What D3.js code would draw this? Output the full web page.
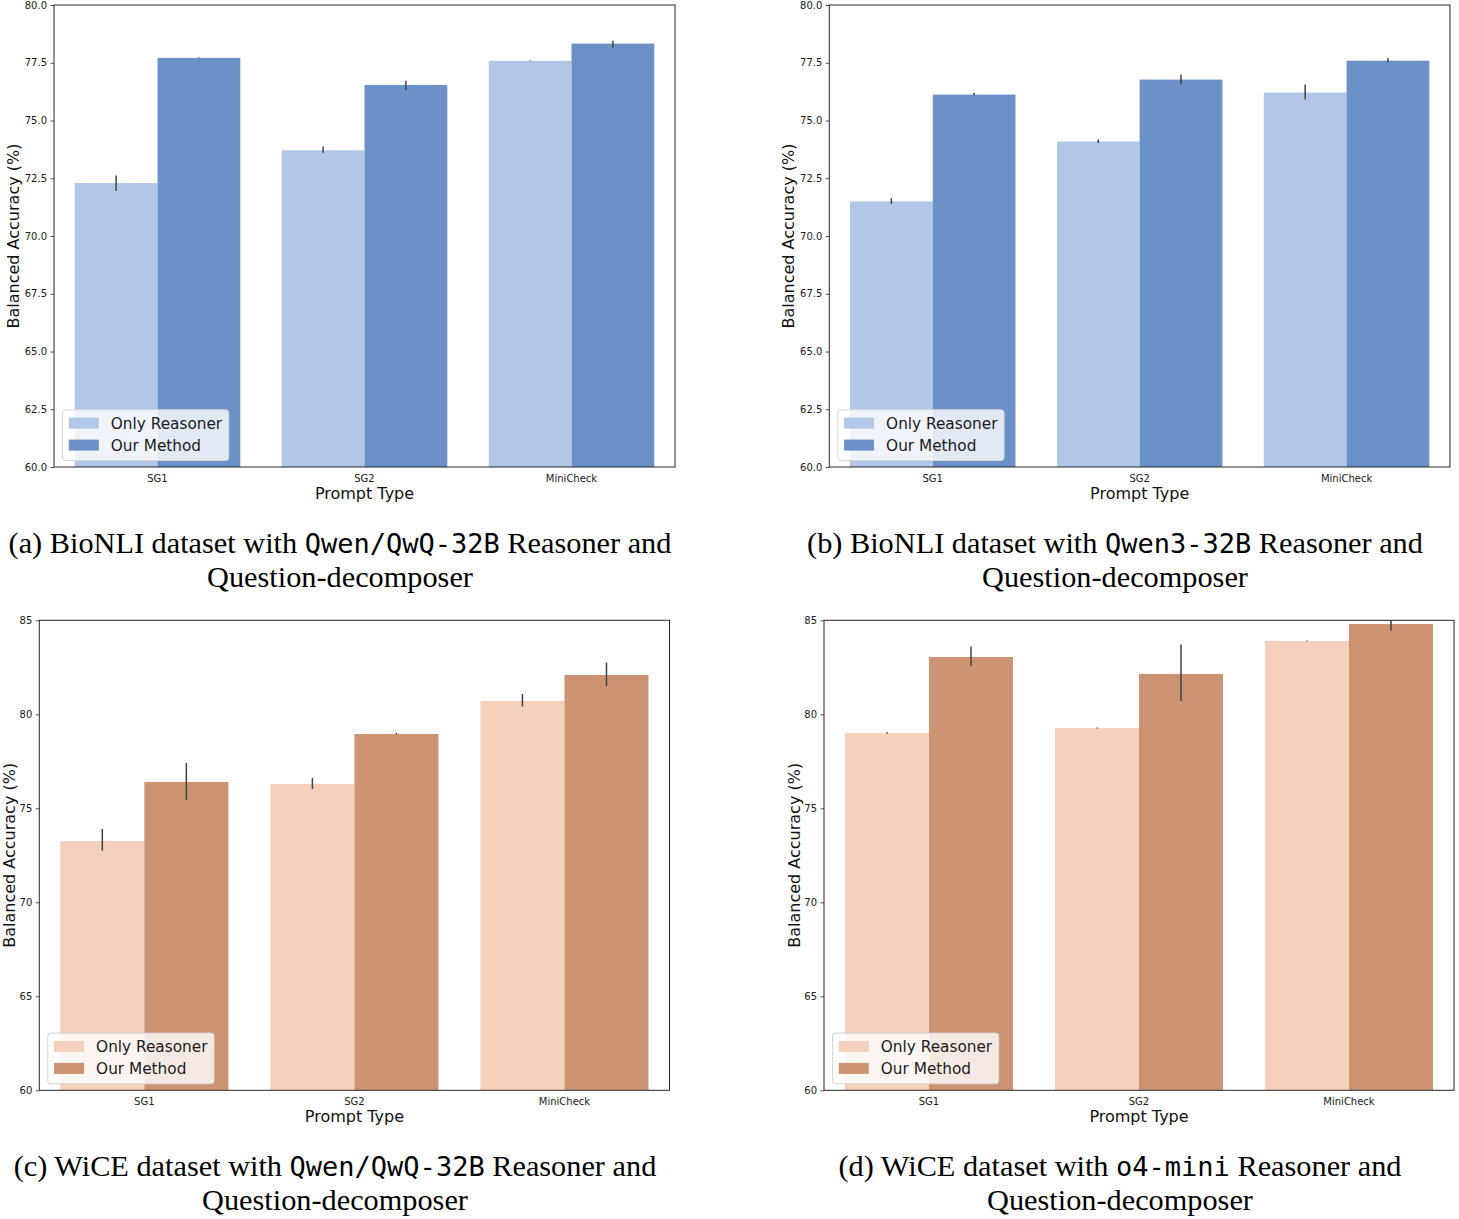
<!DOCTYPE html>
<html>
<head>
<meta charset="utf-8">
<script src="https://cdn.jsdelivr.net/npm/d3@7/dist/d3.min.js"></script>
<style>
  html, body { margin: 0; padding: 0; background: #ffffff; }
  svg { display: block; }
</style>
</head>
<body>
<svg id="fig" width="1459" height="1219"></svg>
<script>
// ---------------- DATA ----------------
const categories = ["SG1", "SG2", "MiniCheck"];
const seriesNames = ["Only Reasoner", "Our Method"];

// (a) BioNLI, Qwen/QwQ-32B
const bionliQwqReasoner = [72.29, 73.71, 77.58];
const bionliQwqReasonerErr = [[71.95, 72.62], [73.60, 73.87], [77.56, 77.60]];
const bionliQwqOurs = [77.71, 76.54, 78.33];
const bionliQwqOursErr = [[77.70, 77.73], [76.32, 76.72], [78.15, 78.45]];

// (b) BioNLI, Qwen3-32B
const bionliQwen3Reasoner = [71.50, 74.09, 76.21];
const bionliQwen3ReasonerErr = [[71.38, 71.63], [74.03, 74.18], [75.91, 76.56]];
const bionliQwen3Ours = [76.12, 76.77, 77.59];
const bionliQwen3OursErr = [[76.09, 76.19], [76.56, 76.99], [77.52, 77.71]];

// (c) WiCE, Qwen/QwQ-32B
const wiceQwqReasoner = [73.26, 76.29, 80.71];
const wiceQwqReasonerErr = [[72.75, 73.90], [76.03, 76.61], [80.41, 81.08]];
const wiceQwqOurs = [76.40, 78.95, 82.09];
const wiceQwqOursErr = [[75.44, 77.41], [78.93, 79.00], [81.51, 82.75]];

// (d) WiCE, o4-mini
const wiceO4Reasoner = [79.01, 79.27, 83.90];
const wiceO4ReasonerErr = [[78.97, 79.04], [79.25, 79.30], [83.88, 83.93]];
const wiceO4Ours = [83.05, 82.15, 84.80];
const wiceO4OursErr = [[82.57, 83.60], [80.71, 83.71], [84.45, 85.15]];

const bionliTicks = [60.0, 62.5, 65.0, 67.5, 70.0, 72.5, 75.0, 77.5, 80.0];
const wiceTicks = [60, 65, 70, 75, 80, 85];

const xLabel = "Prompt Type";
const yLabel = "Balanced Accuracy (%)";

const captionA = [["(a) BioNLI dataset with ", false], ["Qwen/QwQ-32B", true], [" Reasoner and", false]];
const captionB = [["(b) BioNLI dataset with ", false], ["Qwen3-32B", true], [" Reasoner and", false]];
const captionC = [["(c) WiCE dataset with ", false], ["Qwen/QwQ-32B", true], [" Reasoner and", false]];
const captionD = [["(d) WiCE dataset with ", false], ["o4-mini", true], [" Reasoner and", false]];
const captionLine2 = "Question-decomposer";

// ---------------- STYLE / LAYOUT ----------------
const blueColors = ["#b2c6e7", "#6c91c7"];
const peachColors = ["#f4d0bd", "#cd9473"];

const panels = [
  { left: 54, right: 675, top: 5, bottom: 467, domain: [60, 80], ticks: bionliTicks, fmt: d3.format(".1f"),
    colors: blueColors, values: [bionliQwqReasoner, bionliQwqOurs], errs: [bionliQwqReasonerErr, bionliQwqOursErr],
    ylabOffset: 35.5, caption: captionA, capX: 340 },
  { left: 829.3, right: 1450, top: 5, bottom: 467, domain: [60, 80], ticks: bionliTicks, fmt: d3.format(".1f"),
    colors: blueColors, values: [bionliQwen3Reasoner, bionliQwen3Ours], errs: [bionliQwen3ReasonerErr, bionliQwen3OursErr],
    ylabOffset: 35.5, caption: captionB, capX: 1115 },
  { left: 39.3, right: 669.5, top: 620.3, bottom: 1090.3, domain: [60, 85], ticks: wiceTicks, fmt: d3.format("d"),
    colors: peachColors, values: [wiceQwqReasoner, wiceQwqOurs], errs: [wiceQwqReasonerErr, wiceQwqOursErr],
    ylabOffset: 24.5, caption: captionC, capX: 335 },
  { left: 824, right: 1454, top: 620.3, bottom: 1090.3, domain: [60, 85], ticks: wiceTicks, fmt: d3.format("d"),
    colors: peachColors, values: [wiceO4Reasoner, wiceO4Ours], errs: [wiceO4ReasonerErr, wiceO4OursErr],
    ylabOffset: 24.5, caption: captionD, capX: 1120 }
];

const svg = d3.select("#fig");
const sans = "'DejaVu Sans', sans-serif";
const serif = "'Liberation Serif', 'Times New Roman', serif";
const mono = "'DejaVu Sans Mono', monospace";
const spine = "#262626";

panels.forEach((p, pi) => {
  const g = svg.append("g");
  const x = d3.scaleBand().domain(categories).range([p.left, p.right]).paddingInner(0).paddingOuter(0);
  const y = d3.scaleLinear().domain(p.domain).range([p.bottom, p.top]);
  const clipId = "clip" + pi;
  svg.append("clipPath").attr("id", clipId).append("rect")
    .attr("x", p.left).attr("y", p.top).attr("width", p.right - p.left).attr("height", p.bottom - p.top);

  const plot = g.append("g").attr("clip-path", `url(#${clipId})`);
  const bw = x.bandwidth() * 0.4;

  p.values.forEach((vals, si) => {
    plot.selectAll(null).data(categories).enter().append("rect")
      .attr("x", c => x(c) + x.bandwidth() / 2 - bw + si * bw)
      .attr("width", bw)
      .attr("y", (c, i) => y(vals[i]))
      .attr("height", (c, i) => y(p.domain[0]) - y(vals[i]))
      .attr("fill", p.colors[si]);
  });
  p.errs.forEach((errs, si) => {
    plot.selectAll(null).data(categories).enter().append("line")
      .attr("x1", c => x(c) + x.bandwidth() / 2 - bw / 2 + si * bw)
      .attr("x2", c => x(c) + x.bandwidth() / 2 - bw / 2 + si * bw)
      .attr("y1", (c, i) => y(errs[i][0]))
      .attr("y2", (c, i) => y(errs[i][1]))
      .attr("stroke", "#424242").attr("stroke-width", 1.5);
  });

  // Y axis
  const yAxis = d3.axisLeft(y).tickValues(p.ticks).tickFormat(p.fmt).tickSize(3.5).tickPadding(3.5);
  const ya = g.append("g").attr("transform", `translate(${p.left},0)`).call(yAxis);
  ya.select(".domain").remove();
  ya.selectAll(".tick line").attr("stroke", spine).attr("stroke-width", 0.8);
  ya.selectAll(".tick text").attr("font-family", sans).attr("font-size", 10).attr("fill", "#1a1a1a");

  // X axis (labels only)
  const xAxis = d3.axisBottom(x).tickSize(0).tickPadding(7.5);
  const xa = g.append("g").attr("transform", `translate(0,${p.bottom})`).call(xAxis);
  xa.select(".domain").remove();
  xa.selectAll(".tick text").attr("font-family", sans).attr("font-size", 10).attr("fill", "#1a1a1a");

  // spines
  g.append("rect").attr("x", p.left).attr("y", p.top).attr("width", p.right - p.left).attr("height", p.bottom - p.top)
    .attr("fill", "none").attr("stroke", spine).attr("stroke-width", 1);

  // axis labels
  g.append("text").attr("x", (p.left + p.right) / 2).attr("y", p.bottom + 32)
    .attr("text-anchor", "middle").attr("font-family", sans).attr("font-size", 16).attr("fill", "#111")
    .text(xLabel);
  g.append("text")
    .attr("transform", `translate(${p.left - p.ylabOffset},${(p.top + p.bottom) / 2}) rotate(-90)`)
    .attr("text-anchor", "middle").attr("font-family", sans).attr("font-size", 16).attr("fill", "#111")
    .text(yLabel);

  // legend
  const lg = g.append("g");
  const boxX = p.left + 8.5, boxBottom = p.bottom - 6.5, boxH = 50.7, boxTop = boxBottom - boxH;
  const frame = lg.append("rect").attr("x", boxX).attr("y", boxTop).attr("height", boxH).attr("rx", 3)
    .attr("fill", "#ffffff").attr("fill-opacity", 0.8).attr("stroke", "#d6d6d6").attr("stroke-width", 1);
  let maxLen = 0;
  seriesNames.forEach((name, si) => {
    const cy = boxTop + 13.3 + si * 22;
    lg.append("rect").attr("x", boxX + 6.3).attr("y", cy - 5.5).attr("width", 30).attr("height", 11)
      .attr("fill", p.colors[si]);
    const t = lg.append("text").attr("x", boxX + 48.3).attr("y", cy).attr("dy", "0.36em")
      .attr("font-family", sans).attr("font-size", 15.3).attr("fill", "#1a1a1a").text(name);
    maxLen = Math.max(maxLen, t.node().getComputedTextLength());
  });
  frame.attr("width", 48.3 + maxLen + 6.6);

  // caption
  const capBase = p.bottom + 86;
  const c1 = svg.append("text").attr("x", p.capX).attr("y", capBase).attr("text-anchor", "middle")
    .attr("fill", "#000");
  p.caption.forEach(([txt, isMono]) => {
    c1.append("tspan").attr("font-family", isMono ? mono : serif).attr("font-size", isMono ? 27 : 30.3)
      .attr("xml:space", "preserve").style("white-space", "pre").text(txt);
  });
  svg.append("text").attr("x", p.capX).attr("y", capBase + 34).attr("text-anchor", "middle")
    .attr("font-family", serif).attr("font-size", 30.3).attr("fill", "#000").text(captionLine2);
});
</script>
</body>
</html>
